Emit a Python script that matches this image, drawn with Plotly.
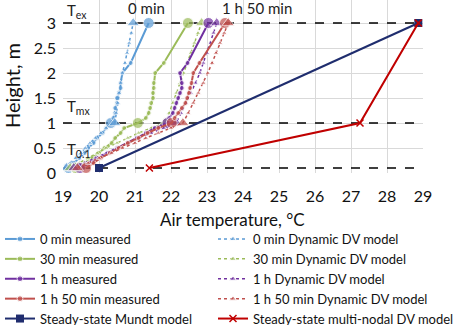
import plotly.graph_objects as go

# ---------------- data ----------------
h_meas = [0.1, 0.2, 0.3, 0.4, 0.5, 0.6, 0.7, 0.8, 0.9, 1.0, 1.1, 1.2, 1.3, 1.4, 1.5, 1.6, 1.7, 1.8, 2.0, 2.2, 3.0]
t0_meas = [19.15, 19.3, 19.45, 19.6, 19.7, 19.85, 19.95, 20.1, 20.2, 20.33, 20.4, 20.45, 20.45, 20.5, 20.5, 20.55, 20.6, 20.6, 20.65, 20.88, 21.38]
t30_meas = [19.35, 19.6, 19.8, 20.0, 20.15, 20.35, 20.45, 20.6, 20.7, 21.08, 21.3, 21.38, 21.42, 21.45, 21.5, 21.5, 21.52, 21.52, 21.56, 21.8, 22.47]
t60_meas = [19.47, 19.75, 19.97, 20.25, 20.5, 20.8, 21.05, 21.3, 21.55, 21.9, 21.95, 22.05, 22.1, 22.15, 22.2, 22.25, 22.3, 22.3, 22.25, 22.46, 23.04]
t110_meas = [19.64, 19.85, 20.05, 20.3, 20.55, 20.8, 21.1, 21.35, 21.65, 22.02, 22.1, 22.2, 22.3, 22.4, 22.45, 22.5, 22.53, 22.57, 22.62, 22.79, 23.5]

h_model = [0.1, 0.2, 0.3, 0.4, 0.5, 0.6, 0.7, 0.8, 0.9, 1.0, 1.2, 1.4, 1.6, 1.8, 2.0, 2.2, 2.4, 2.6, 2.8, 3.0]
t0_model = [19.1, 19.2, 19.35, 19.5, 19.62, 19.75, 19.9, 20.05, 20.2, 20.44, 20.48, 20.52, 20.56, 20.6, 20.65, 20.72, 20.78, 20.84, 20.9, 20.95]
t30_model = [19.2, 19.45, 19.7, 19.95, 20.2, 20.5, 20.8, 21.1, 21.45, 21.83, 21.95, 22.05, 22.15, 22.25, 22.35, 22.45, 22.55, 22.65, 22.75, 22.85]
t60_model = [19.3, 19.6, 19.9, 20.2, 20.5, 20.8, 21.1, 21.45, 21.8, 22.14, 22.28, 22.42, 22.55, 22.68, 22.8, 22.9, 23.0, 23.1, 23.18, 23.27]
t110_model = [19.4, 19.7, 20.0, 20.35, 20.65, 21.0, 21.3, 21.65, 22.0, 22.33, 22.48, 22.62, 22.76, 22.9, 23.02, 23.14, 23.25, 23.36, 23.48, 23.59]

h_mundt = [0.1, 3.0]
t_mundt = [20.0, 28.87]

h_multi = [0.1, 1.0, 3.0]
t_multi = [21.4, 27.25, 28.87]

ref_heights = [0.1, 1.0, 3.0]
ref_labels = ["T<sub>ex</sub>", "T<sub>mx</sub>", "T<sub>0.1</sub>"]
x_ticks = list(range(19, 30))
y_ticks = [0, 0.5, 1, 1.5, 2, 2.5, 3]

# ---------------- styling ----------------
FONT = "Lato"
BLUE = "#5B9BD5"
GREEN = "#9BBB59"
PURPLE = "#7030A0"
BROWN = "#C0504D"
NAVY = "#1F2D6E"
RED = "#C00000"

L, R, T, B = 63, 51, 0, 152
W, H = 474, 325
PH = H - T - B
PW = W - L - R

key_h = {0.1, 1.0, 3.0}


def sizes(hs, big, small):
    return [big if h in key_h else small for h in hs]


fig = go.Figure()

# reference dashed lines
for h in ref_heights:
    fig.add_trace(go.Scatter(x=[x_ticks[0], x_ticks[-1]], y=[h, h], mode="lines",
                             line=dict(color="black", width=1.5, dash="dash"),
                             showlegend=False, hoverinfo="skip"))

series = [
    ("0 min", t0_meas, t0_model, BLUE),
    ("30 min", t30_meas, t30_model, GREEN),
    ("1 h", t60_meas, t60_model, PURPLE),
    ("1 h 50 min", t110_meas, t110_model, BROWN),
]

for name, tm, tmod, col in series:
    fig.add_trace(go.Scatter(x=tm, y=h_meas, mode="lines+markers", name=f"{name} measured",
                             legend="legend",
                             line=dict(color=col, width=2),
                             marker=dict(symbol="circle", color=col, size=sizes(h_meas, 11, 5))))
    fig.add_trace(go.Scatter(x=tmod, y=h_model, mode="lines+markers", name=f"{name} Dynamic DV model",
                             legend="legend2",
                             line=dict(color=col, width=1.5, dash="dot"),
                             marker=dict(symbol="triangle-up", color=col, size=sizes(h_model, 11, 5))))

fig.add_trace(go.Scatter(x=t_mundt, y=h_mundt, mode="lines+markers", name="Steady-state Mundt model",
                         legend="legend",
                         line=dict(color=NAVY, width=2),
                         marker=dict(symbol="square", color=NAVY, size=8)))
fig.add_trace(go.Scatter(x=t_multi, y=h_multi, mode="lines+markers", name="Steady-state multi-nodal DV model",
                         legend="legend2",
                         line=dict(color=RED, width=2),
                         marker=dict(symbol="x-thin", color=RED, size=7, line=dict(color=RED, width=1.5))))

lab_font = dict(family=FONT, size=15, color="#222")
annotations = [
    dict(x=19.05, y=3.25, xref="x", yref="y", text=ref_labels[0], showarrow=False, xanchor="left", font=lab_font),
    dict(x=19.05, y=1.33, xref="x", yref="y", text=ref_labels[1], showarrow=False, xanchor="left", font=lab_font),
    dict(x=19.05, y=0.47, xref="x", yref="y", text=ref_labels[2], showarrow=False, xanchor="left", font=lab_font),
    dict(x=t0_meas[-1] - 0.05, y=3.3, xref="x", yref="y", text="0 min", showarrow=False, font=lab_font),
    dict(x=t110_meas[-1] - 0.14, y=3.3, xref="x", yref="y", text="1 h 50 min", showarrow=False,
         xanchor="left", font=lab_font),
    dict(x=(232 - L) / PW, y=(PH - (219 - T)) / PH, xref="paper", yref="paper", text="Air temperature, °C",
         showarrow=False, xanchor="center", yanchor="middle", font=dict(family=FONT, size=17, color="#111")),
    dict(x=(12 - L) / PW, y=(PH - (86 - T)) / PH, xref="paper", yref="paper", text="Height, m",
         textangle=-90, showarrow=False, xanchor="center", yanchor="middle",
         font=dict(family=FONT, size=20, color="#111")),
]

leg_common = dict(orientation="v", xref="container", yref="container", yanchor="top", xanchor="left",
                  itemwidth=30, font=dict(family=FONT, size=13, color="#111"),
                  tracegroupgap=0, bgcolor="rgba(0,0,0,0)", y=1 - 224 / H)

fig.update_layout(
    width=W, height=H,
    margin=dict(l=L, r=R, t=T, b=B, autoexpand=False),
    paper_bgcolor="white", plot_bgcolor="white",
    font=dict(family=FONT, size=15, color="#111"),
    annotations=annotations,
    showlegend=True,
    legend=dict(x=0, **leg_common),
    legend2=dict(x=213 / W, **leg_common),
)
fig.update_xaxes(range=[19, 29], tickvals=x_ticks, showgrid=True, gridcolor="#D9D9D9", gridwidth=1,
                 zeroline=False, showline=False, ticks="", ticklabelstandoff=12,
                 tickfont=dict(family=FONT, size=16))
fig.update_yaxes(range=[0, 3.46], tickvals=y_ticks, showgrid=True, gridcolor="#D9D9D9", gridwidth=1,
                 zeroline=False, showline=False, ticks="", ticklabelstandoff=6,
                 tickfont=dict(family=FONT, size=16))

fig.write_html("out.html")
